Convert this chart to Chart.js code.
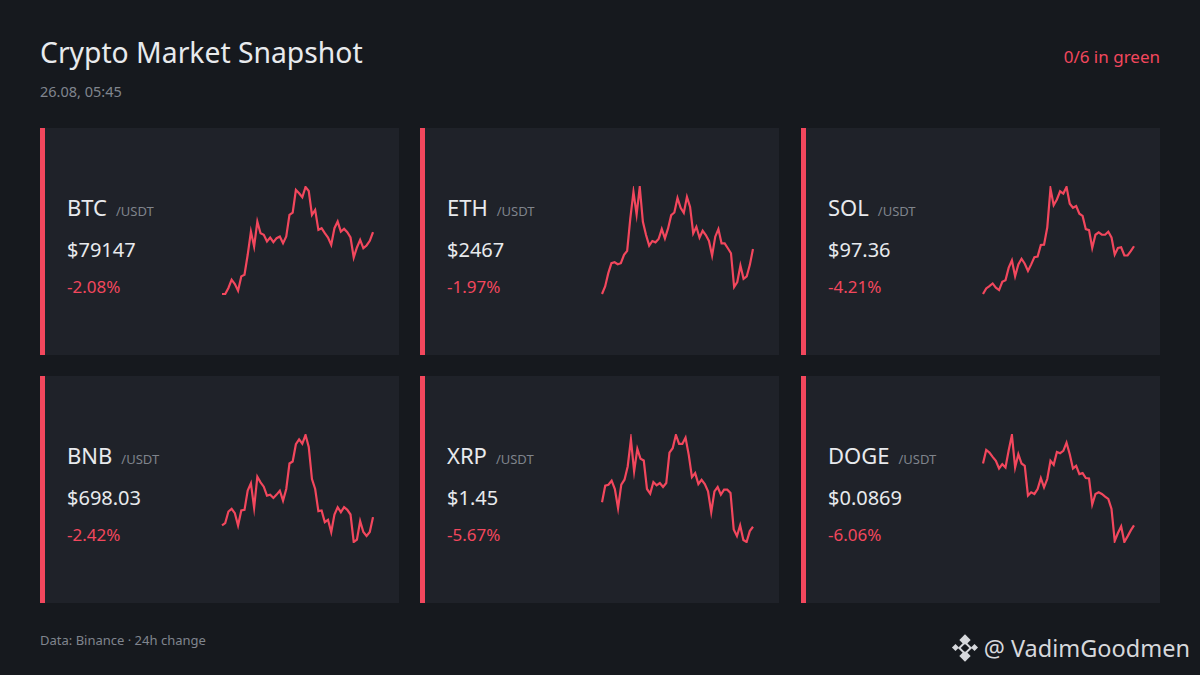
<!DOCTYPE html>
<html>
<head>
<meta charset="utf-8">
<script src="https://cdn.jsdelivr.net/npm/chart.js@4"></script>
<style>
html,body{margin:0;padding:0;}
body{width:1200px;height:675px;background:#16191e;font-family:"Noto Sans","Open Sans",sans-serif;position:relative;overflow:hidden;color:#e6e8eb;}
#title{position:absolute;left:40px;top:32px;font-size:28.3px;line-height:40px;color:#e8eaed;}
#date{position:absolute;left:40px;top:81px;font-size:14.5px;color:#80858e;}
#green{position:absolute;right:40px;top:45px;font-size:17px;color:#f2475d;}
.card{position:absolute;width:359px;height:227px;background:#1f2229;}
.card .bar{position:absolute;left:0;top:0;width:5px;height:100%;background:#f2475d;}
.sym{position:absolute;left:27px;top:64px;font-size:22px;color:#e8eaed;}
.sym small{font-size:13px;color:#7f848c;margin-left:9px;}
.price{position:absolute;left:27px;top:108px;font-size:20px;color:#e8eaed;}
.chg{position:absolute;left:27px;top:147px;font-size:17px;color:#f2475d;}
.spark{position:absolute;left:180px;top:57px;width:155px;height:111px;}
#foot{position:absolute;left:40px;top:631px;font-size:13px;color:#80858e;}
#sign{position:absolute;right:10px;top:632px;font-size:23.5px;color:#d6d8dc;display:flex;align-items:center;}
#logo{position:relative;width:26px;height:26px;margin-right:6px;}
#logo i{position:absolute;background:#d6d8dc;transform:rotate(45deg);}
</style>
</head>
<body>
<div id="title">Crypto Market Snapshot</div>
<div id="date">26.08, 05:45</div>
<div id="green">0/6 in green</div>
<div id="cards"></div>
<div id="foot">Data: Binance · 24h change</div>
<div id="sign"><div id="logo">
<i style="left:9px;top:1px;width:8px;height:8px;"></i>
<i style="left:9px;top:17px;width:8px;height:8px;"></i>
<i style="left:1px;top:10px;width:5px;height:5px;"></i>
<i style="left:20px;top:10px;width:5px;height:5px;"></i>
<i style="left:10px;top:10px;width:6px;height:6px;background:#16191e;outline:2px solid #d6d8dc;"></i>
</div>@ VadimGoodmen</div>
<script>
let symbols=["BTC","ETH","SOL","BNB","XRP","DOGE"];
let prices=["$79147","$2467","$97.36","$698.03","$1.45","$0.0869"];
let changes=["-2.08%","-1.97%","-4.21%","-2.42%","-5.67%","-6.06%"];

/* sparkline values (relative units) */
let btc=[32,32,50,75,62,42,85,90,150,220,175,250,215,210,190,202,188,200,205,185,205,270,277,345,335,323,354,342,270,285,225,230,215,202,180,230,250,220,228,218,202,142,172,195,170,178,192,218];
let eth=[32,55,95,125,128,122,125,150,162,260,340,272,355,250,210,178,192,188,198,228,200,230,270,278,322,292,277,325,295,215,235,202,223,210,192,148,205,228,185,185,170,155,53,68,118,78,85,120,168];
let sol=[28,45,52,60,47,40,65,70,108,130,82,118,135,120,98,118,140,142,177,178,230,348,298,315,340,333,353,302,290,295,272,265,225,222,168,208,215,208,208,217,200,148,168,170,145,145,158,173];
let bnb=[85,92,127,135,122,85,130,132,190,212,138,232,215,202,175,178,168,178,190,160,195,272,278,330,345,332,358,322,225,195,128,130,95,102,65,118,140,125,140,132,118,35,42,98,65,53,65,110];
let xrp=[152,202,205,217,192,134,205,220,260,342,245,313,283,278,192,178,213,203,210,198,210,302,315,355,328,328,347,295,228,240,207,220,207,185,122,185,198,175,190,190,180,70,50,82,38,32,65,78];
let doge=[272,313,305,292,280,257,270,260,312,358,260,300,272,265,175,185,180,195,228,200,225,280,268,307,303,310,335,300,257,265,240,243,228,227,148,180,185,180,172,165,135,38,62,82,35,52,70,85];
let series=[btc,eth,sol,bnb,xrp,doge];

let cardX=[40,420,801],cardY=[128,376];
let html="";
symbols.forEach((s,i)=>{
html+=`
<div class="card" style="left:${cardX[i%3]}px;top:${cardY[Math.floor(i/3)]}px">
<div class="bar"></div>
<div class="sym">${s}<small>/USDT</small></div>
<div class="price">${prices[i]}</div>
<div class="chg">${changes[i]}</div>
<div class="spark"><canvas id="c${i}"></canvas></div>
</div>`;
});
cards.innerHTML=html;

series.forEach((vals,i)=>{
new Chart(document.getElementById("c"+i),{
type:"line",
data:{labels:vals.map((v,j)=>j),datasets:[{data:vals,borderColor:"#f2475d",borderWidth:2.2,pointRadius:0,tension:0,fill:false}]},
options:{
responsive:true,maintainAspectRatio:false,animation:false,
layout:{padding:2},
plugins:{legend:{display:false},tooltip:{enabled:false}},
scales:{x:{display:false},y:{display:false,bounds:"data",grace:0}}
}
});
});
</script>
</body>
</html>
